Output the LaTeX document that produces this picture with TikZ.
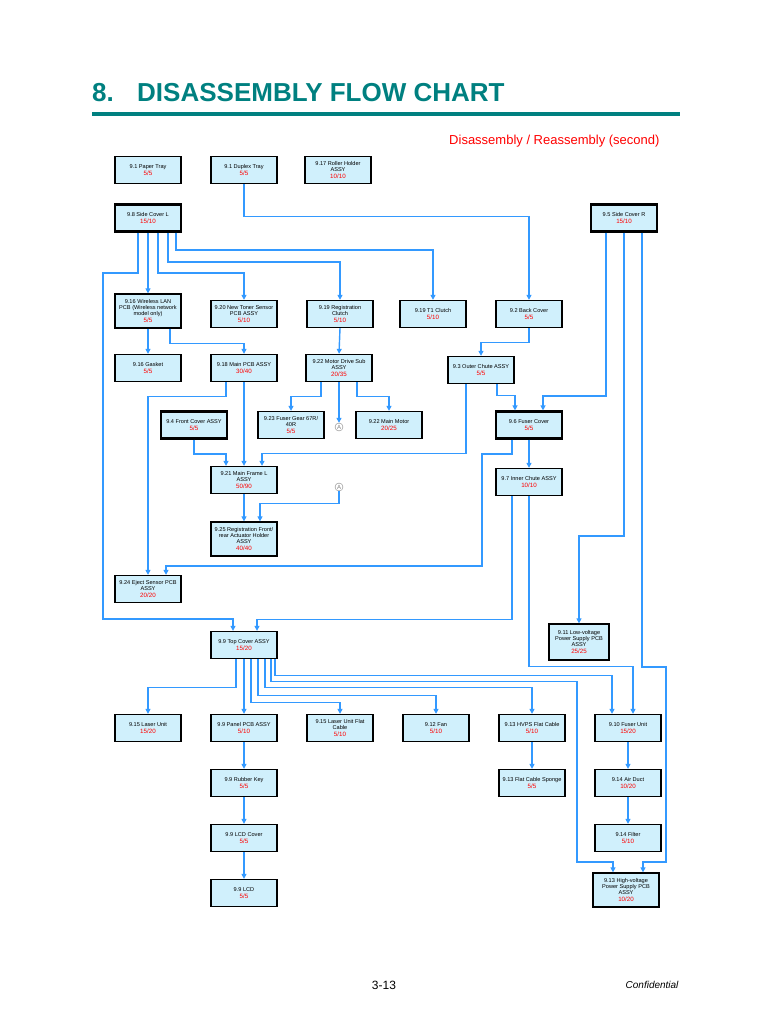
\documentclass[tikz,border=0pt]{standalone}
\usepackage{fontspec}
\setmainfont{Liberation Sans}
\usetikzlibrary{positioning,arrows.meta}
\definecolor{flowblue}{RGB}{51,153,255}
\definecolor{boxfill}{RGB}{208,240,252}
\definecolor{titleteal}{RGB}{0,128,128}
\tikzset{Step/.style={%
    shape=rectangle,%
    draw=black,%
    fill=boxfill,%
    line width=1.3pt,%
    minimum width=66pt,%
    minimum height=27pt,%
    inner sep=1pt,%
    align=center,%
    font=\fontsize{5.6}{6.3}\selectfont,%
}}
\tikzset{MainStep/.style={%
    Step,%
    line width=2.2pt,%
}}
\tikzset{Flow/.style={%
    -{Triangle[length=5pt,width=5pt]},
    draw=flowblue,%
    line width=1.4pt,%
}}
\tikzset{Mark/.style={%
    shape=circle,%
    draw=gray,%
    text=gray,%
    minimum size=8pt,%
    inner sep=0.4pt,%
    font=\fontsize{6}{6}\selectfont,%
}}
\NewDocumentCommand{\stepText}{m m}{%
    #1\\[1pt]{\color{red}\fontsize{6.2}{7}\selectfont #2}%
}

\begin{document}
\begin{tikzpicture}[x=1pt,y=-1pt]
    \useasboundingbox (0,0) rectangle (768,1024);
    % heading
    \node[anchor=base west, inner sep=0pt, text=titleteal, font=\fontsize{26}{30}\selectfont\bfseries] (num) at (92,102) {8.};
    \node[anchor=base west, inner sep=0pt, text=titleteal, font=\fontsize{26}{30}\selectfont\bfseries] (head) at (137,102) {DISASSEMBLY FLOW CHART};
    \draw[titleteal, line width=4pt] (92,114) -- (680,114);
    \node[anchor=base east, text=red, font=\fontsize{13}{15}\selectfont] (sub) at (663,145) {Disassembly / Reassembly (second)};

    % steps
    \node[Step] (paper) at (148,170) {\stepText{9.1 Paper Tray}{5/5}};
    \node[Step] (duplex) at (244,170) {\stepText{9.1 Duplex Tray}{5/5}};
    \node[Step] (roller) at (338,170) {\stepText{9.17 Roller Holder\\ASSY}{10/10}};
    \node[MainStep] (sideL) at (148,218) {\stepText{9.8 Side Cover L}{15/10}};
    \node[MainStep] (sideR) at (624,218) {\stepText{9.5 Side Cover R}{15/10}};
    \node[Step, minimum height=34pt] (wlan) at (148,311) {\stepText{9.16 Wireless LAN\\PCB (Wireless network\\model only)}{5/5}};
    \node[Step] (toner) at (244,314) {\stepText{9.20 New Toner Sensor\\PCB ASSY}{5/10}};
    \node[Step] (regclutch) at (340,314) {\stepText{9.19 Registration\\Clutch}{5/10}};
    \node[Step] (tclutch) at (433,314) {\stepText{9.19 T1 Clutch}{5/10}};
    \node[Step] (back) at (529,314) {\stepText{9.2 Back Cover}{5/5}};
    \node[Step] (gasket) at (148,368) {\stepText{9.16 Gasket}{5/5}};
    \node[Step] (mainpcb) at (244,368) {\stepText{9.18 Main PCB ASSY}{30/40}};
    \node[Step] (motor) at (339,368) {\stepText{9.22 Motor Drive Sub\\ASSY}{20/35}};
    \node[Step] (outer) at (481,370) {\stepText{9.3 Outer Chute ASSY}{5/5}};
    \node[MainStep] (front) at (194,425) {\stepText{9.4 Front Cover ASSY}{5/5}};
    \node[Step] (fgear) at (291,425) {\stepText{9.23 Fuser Gear 67R/\\40R}{5/5}};
    \node[Mark] (markA) at (339,427) {A};
    \node[Step] (mmotor) at (389,425) {\stepText{9.22 Main Motor}{20/25}};
    \node[MainStep] (fuserc) at (529,425) {\stepText{9.6 Fuser Cover}{5/5}};
    \node[Step] (mframe) at (244,480) {\stepText{9.21 Main Frame L\\ASSY}{50/90}};
    \node[Mark] (markB) at (339,487) {A};
    \node[Step] (inner) at (529,482) {\stepText{9.7 Inner Chute ASSY}{10/10}};
    \node[Step, minimum height=34pt] (regfront) at (244,539) {\stepText{9.25 Registration Front/\\rear Actuator Holder\\ASSY}{40/40}};
    \node[Step] (eject) at (148,589) {\stepText{9.24 Eject Sensor PCB\\ASSY}{20/20}};
    \node[Step, minimum width=60pt, minimum height=36pt] (lowv) at (579,642) {\stepText{9.11 Low-voltage\\Power Supply PCB\\ASSY}{25/25}};
    \node[Step] (topc) at (244,645) {\stepText{9.9 Top Cover ASSY}{15/20}};
    \node[Step] (laser) at (148,728) {\stepText{9.15 Laser Unit}{15/20}};
    \node[Step] (panel) at (244,728) {\stepText{9.9 Panel PCB ASSY}{5/10}};
    \node[Step] (lflat) at (340,728) {\stepText{9.15 Laser Unit Flat\\Cable}{5/10}};
    \node[Step] (fan) at (436,728) {\stepText{9.12 Fan}{5/10}};
    \node[Step] (hvflat) at (532,728) {\stepText{9.13 HVPS Flat Cable}{5/10}};
    \node[Step] (fuseru) at (628,728) {\stepText{9.10 Fuser Unit}{15/20}};
    \node[Step] (rubber) at (244,783) {\stepText{9.9 Rubber Key}{5/5}};
    \node[Step] (sponge) at (532,783) {\stepText{9.13 Flat Cable Sponge}{5/5}};
    \node[Step] (airduct) at (628,783) {\stepText{9.14 Air Duct}{10/20}};
    \node[Step] (lcdcover) at (244,838) {\stepText{9.9 LCD Cover}{5/5}};
    \node[Step] (filter) at (628,838) {\stepText{9.14 Filter}{5/10}};
    \node[Step] (lcd) at (244,893) {\stepText{9.9 LCD}{5/5}};
    \node[Step, minimum height=34pt] (hv) at (626,890) {\stepText{9.13 High-voltage\\Power Supply PCB\\ASSY}{10/20}};

    % flows
    \draw[Flow] (duplex.south) -- ++(0,32.5) -| (back.north);
    \draw[Flow] ([xshift=-10pt]sideL.south) -- ++(0,40.5) -| (103,619) -| ([xshift=-11pt]topc.north);
    \draw[Flow] (sideL.south) -- (wlan.north);
    \draw[Flow] ([xshift=10pt]sideL.south) -- ++(0,40.5) -| (toner.north);
    \draw[Flow] ([xshift=20pt]sideL.south) -- ++(0,29.5) -| (regclutch.north);
    \draw[Flow] ([xshift=28pt]sideL.south) -- ++(0,17.5) -| (tclutch.north);
    \draw[Flow] (wlan.south) -- (gasket.north);
    \draw[Flow] ([xshift=22pt]wlan.south) -- ++(0,15) -| (mainpcb.north);
    \draw[Flow] (regclutch.south) -- (motor.north);
    \draw[Flow] (back.south) -- ++(0,14.5) -| (outer.north);
    \draw[Flow] ([xshift=-18pt]mainpcb.south) -- ++(0,14.5) -| (eject.north);
    \draw[Flow] (mainpcb.south) -- (mframe.north);
    \draw[Flow] ([xshift=-18pt]motor.south) -- ++(0,14.5) -| (fgear.north);
    \draw[Flow] (motor.south) -- (markA.north);
    \draw[Flow] ([xshift=18pt]motor.south) -- ++(0,14.5) -| (mmotor.north);
    \draw[Flow] (front.south) -- ++(0,14.5) -| ([xshift=-18pt]mframe.north);
    \draw[Flow] ([xshift=-15pt]outer.south) -- ++(0,69.5) -| ([xshift=18pt]mframe.north);
    \draw[Flow] ([xshift=16pt]outer.south) -- ++(0,11.5) -| ([xshift=-14pt]fuserc.north);
    \draw[Flow] ([xshift=-18pt]sideR.south) -- ++(0,163.5) -| ([xshift=14pt]fuserc.north);
    \draw[Flow] (sideR.south) -- ++(0,303.5) -| (lowv.north);
    \draw[Flow] ([xshift=18pt]sideR.south) -- ++(0,434.5) -| (666,862) -| ([xshift=17pt]hv.north);
    \draw[Flow] ([xshift=-17pt]fuserc.south) -- ++(0,14.5) -| (482,566) -| ([xshift=18pt]eject.north);
    \draw[Flow] (fuserc.south) -- (inner.north);
    \draw[Flow] (mframe.south) -- (regfront.north);
    \draw[Flow] (markB.south) -- ++(0,12) -| ([xshift=16pt]regfront.north);
    \draw[Flow] ([xshift=-17pt]inner.south) -- ++(0,123.5) -| ([xshift=13pt]topc.north);
    \draw[Flow] (inner.south) -- ++(0,170.5) -| ([xshift=5pt]fuseru.north);
    \draw[Flow] ([xshift=-8pt]topc.south) -- ++(0,28.5) -| (laser.north);
    \draw[Flow] (topc.south) -- (panel.north);
    \draw[Flow] ([xshift=7pt]topc.south) -- ++(0,43.5) -| (lflat.north);
    \draw[Flow] ([xshift=14pt]topc.south) -- ++(0,36.5) -| (fan.north);
    \draw[Flow] ([xshift=21pt]topc.south) -- ++(0,28.5) -| (hvflat.north);
    \draw[Flow] ([xshift=27pt]topc.south) -- ++(0,22.5) -| (577,862) -| ([xshift=-13pt]hv.north);
    \draw[Flow] ([xshift=31pt]topc.south) -- ++(0,16.5) -| ([xshift=-16pt]fuseru.north);
    \draw[Flow] (panel) -- (rubber);
    \draw[Flow] (rubber) -- (lcdcover);
    \draw[Flow] (lcdcover) -- (lcd);
    \draw[Flow] (hvflat) -- (sponge);
    \draw[Flow] (fuseru) -- (airduct);
    \draw[Flow] (airduct) -- (filter);

    % footer
    \node[font=\fontsize{12}{14}\selectfont] (page) at (384,985) {3-13};
    \node[anchor=east, font=\fontsize{10}{12}\selectfont\itshape] (conf) at (682,985) {Confidential};
\end{tikzpicture}
\end{document}
